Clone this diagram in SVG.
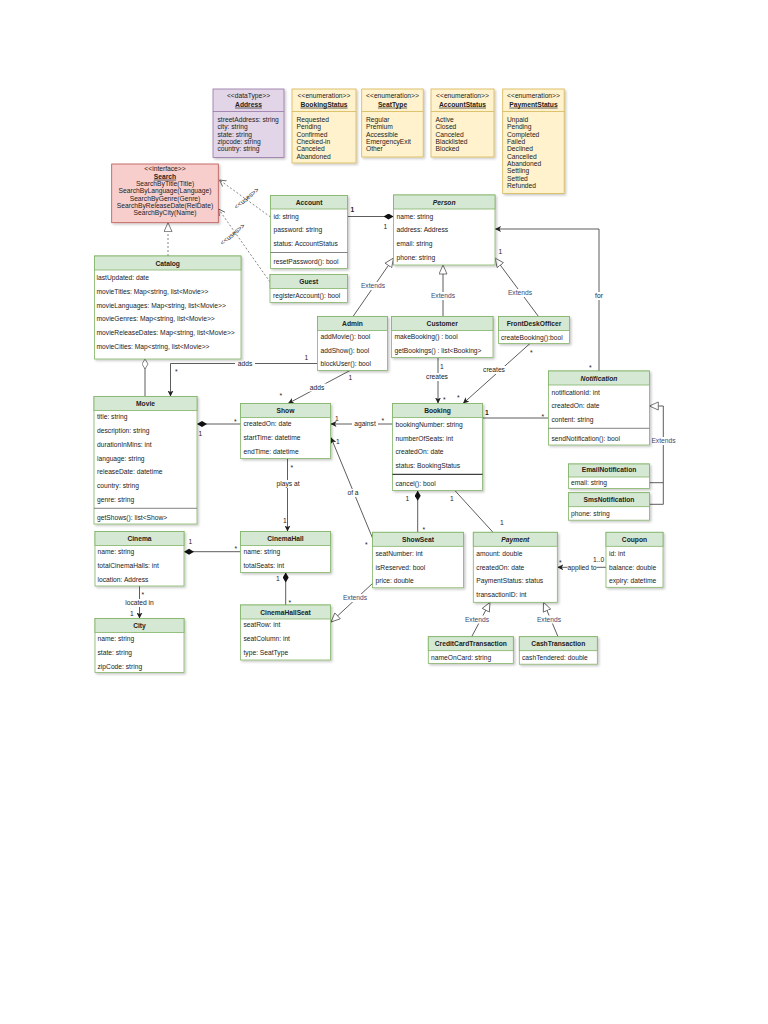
<svg xmlns="http://www.w3.org/2000/svg" width="768" height="1024" viewBox="0 0 768 1024">
<style>
.t{font-family:"Liberation Sans",Arial,Helvetica,sans-serif;font-size:6.7px;fill:#222}
.b{font-weight:bold}
.i{font-style:italic}
.c{text-anchor:middle}
.u{text-decoration:underline}
.bx{fill:#fff;stroke:#82b366;stroke-width:0.8;filter:url(#sh)}
.hd{fill:#d5e8d4;stroke:#82b366;stroke-width:0.8}
.sp{stroke:#666;stroke-width:0.8}
.en{fill:#fff2cc;stroke:#d6b656;stroke-width:0.8;filter:url(#sh)}
.dt{fill:#e1d5e7;stroke:#9673a6;stroke-width:0.8;filter:url(#sh)}
.ln{fill:none;stroke:#333;stroke-width:0.8}
.dl{fill:none;stroke:#666;stroke-width:0.8;stroke-dasharray:2,2}
.lb{fill:#fff}
.ex{fill:#3a4a72}
</style>
<defs>
<filter id="sh" x="-10%" y="-10%" width="130%" height="130%">
<feDropShadow dx="1.5" dy="1.5" stdDeviation="1" flood-color="#000" flood-opacity="0.22"/>
</filter>
<marker id="ar" markerWidth="7" markerHeight="6" refX="6" refY="3" orient="auto" markerUnits="userSpaceOnUse">
<path d="M0,0 L6,3 L0,6 L1.5,3 z" fill="#222"/>
</marker>
<marker id="op" markerWidth="8" markerHeight="8" refX="6.5" refY="3.5" orient="auto" markerUnits="userSpaceOnUse">
<path d="M0,0 L6.5,3.5 L0,7" fill="none" stroke="#555" stroke-width="0.8"/>
</marker>
<marker id="tr" markerWidth="11" markerHeight="11" refX="9.5" refY="4.5" orient="auto" markerUnits="userSpaceOnUse">
<path d="M0.5,0.5 L9.5,4.5 L0.5,8.5 z" fill="#fff" stroke="#555" stroke-width="0.8"/>
</marker>
<marker id="df" markerWidth="11" markerHeight="7" refX="10" refY="3" orient="auto" markerUnits="userSpaceOnUse">
<path d="M0,3 L5,0 L10,3 L5,6 z" fill="#111"/>
</marker>
<marker id="dh" markerWidth="11" markerHeight="7" refX="10.5" refY="3.5" orient="auto" markerUnits="userSpaceOnUse">
<path d="M0.5,3.5 L5.5,0.5 L10.5,3.5 L5.5,6.5 z" fill="#fff" stroke="#555" stroke-width="0.7"/>
</marker>
</defs>
<rect width="768" height="1024" fill="#fff"/>

<!-- connectors -->
<g id="connectors">
<!-- Account - Person composition -->
<path class="ln" d="M347.5,216.5 H393.5" marker-end="url(#df)"/>
<text class="t b" x="350.5" y="212">1</text>
<text class="t" x="383.5" y="229">1</text>
<!-- dependencies to Search -->
<path class="dl" d="M270.5,217 L219.5,180" marker-end="url(#op)"/>
<text class="t c" font-size="6.2" transform="translate(248,200) rotate(-40)">&lt;&lt;uses&gt;&gt;</text>
<path class="dl" d="M270,282 L218.5,209" marker-end="url(#op)"/>
<text class="t c" font-size="6.2" transform="translate(234,236) rotate(-40)">&lt;&lt;uses&gt;&gt;</text>
<!-- Catalog realizes Search -->
<path class="dl" d="M168,256 V222.7" marker-end="url(#tr)"/>
<!-- Catalog - Movie aggregation -->
<path class="ln" d="M145,396.5 V359" marker-end="url(#dh)"/>
<!-- Admin adds Movie -->
<path class="ln" d="M317.5,363.5 H170.5 V396.5" marker-end="url(#ar)"/>
<rect class="lb" x="235" y="359.5" width="20" height="8"/>
<text class="t c" x="245" y="365.8">adds</text>
<text class="t" x="304.5" y="360">1</text>
<text class="t" x="175" y="374">*</text>
<!-- Admin adds Show -->
<path class="ln" d="M350,370.5 L288,403.5" marker-end="url(#ar)"/>
<rect class="lb" x="308" y="383.5" width="18" height="8"/>
<text class="t c" x="317" y="389.5">adds</text>
<text class="t" x="348.5" y="380">1</text>
<text class="t" x="279.5" y="398">*</text>
<!-- Extends to Person -->
<path class="ln" d="M353,316.5 L393.5,258" marker-end="url(#tr)"/>
<rect class="lb" x="361" y="282" width="24" height="8"/>
<text class="t c ex" x="373" y="288.3">Extends</text>
<path class="ln" d="M443,316.5 V265" marker-end="url(#tr)"/>
<rect class="lb" x="431" y="292" width="24" height="8"/>
<text class="t c ex" x="443" y="298.3">Extends</text>
<path class="ln" d="M538.5,316.5 L495,258" marker-end="url(#tr)"/>
<rect class="lb" x="508" y="289" width="24" height="8"/>
<text class="t c ex" x="520" y="295.3">Extends</text>
<!-- Notification for Person -->
<path class="ln" d="M599,371 V229 H495" marker-end="url(#ar)"/>
<rect class="lb" x="592" y="292" width="14" height="8"/>
<text class="t c" x="599" y="298.3">for</text>
<text class="t" x="589" y="369.5">*</text>
<text class="t" x="498.5" y="254">1</text>
<!-- Customer creates Booking -->
<path class="ln" d="M438,357.5 V403.5" marker-end="url(#ar)"/>
<text class="t" x="440" y="369">1</text>
<rect class="lb" x="426" y="373" width="22" height="8"/>
<text class="t c" x="437" y="379.3">creates</text>
<text class="t" x="443" y="401.5">*</text>
<!-- FrontDeskOfficer creates Booking -->
<path class="ln" d="M530,343.5 L463,403.5" marker-end="url(#ar)"/>
<text class="t" x="530" y="355">*</text>
<rect class="lb" x="483" y="366" width="22" height="8"/>
<text class="t c" x="494" y="372.3">creates</text>
<text class="t" x="457" y="400">*</text>
<!-- Booking against Show -->
<path class="ln" d="M392.5,424 H330.5" marker-end="url(#ar)"/>
<rect class="lb" x="352" y="420" width="26" height="8"/>
<text class="t c" x="365" y="426.3">against</text>
<text class="t" x="381.5" y="422.5">*</text>
<text class="t" x="335" y="421">1</text>
<!-- ShowSeat of a Show -->
<path class="ln" d="M372.5,538 L331,437.5" marker-end="url(#ar)"/>
<text class="t" x="336" y="443.5">1</text>
<rect class="lb" x="346" y="489" width="14" height="8"/>
<text class="t c" x="353" y="495.3">of a</text>
<text class="t" x="365" y="547">*</text>
<!-- Show - Movie composition -->
<path class="ln" d="M240.5,424 H197" marker-end="url(#df)"/>
<text class="t" x="234" y="423.5">*</text>
<text class="t" x="198.5" y="436">1</text>
<!-- Show plays at CinemaHall -->
<path class="ln" d="M287.5,458.5 V531.5" marker-end="url(#ar)"/>
<text class="t" x="290.5" y="469.5">*</text>
<rect class="lb" x="275.5" y="480" width="25" height="8"/>
<text class="t c" x="288" y="486.3">plays at</text>
<text class="t" x="283" y="523">1</text>
<!-- CinemaHall - Cinema composition -->
<path class="ln" d="M240.5,551.7 H184" marker-end="url(#df)"/>
<text class="t" x="188.5" y="544">1</text>
<text class="t" x="234.5" y="550.5">*</text>
<!-- Cinema located in City -->
<path class="ln" d="M139.5,586 V618.5" marker-end="url(#ar)"/>
<text class="t" x="141.5" y="597">*</text>
<rect class="lb" x="125" y="599" width="29" height="8"/>
<text class="t c" x="139.5" y="605.3">located in</text>
<text class="t" x="130" y="616">1</text>
<!-- CinemaHallSeat - CinemaHall composition -->
<path class="ln" d="M285.7,605 V572.5" marker-end="url(#df)"/>
<text class="t" x="276" y="581">1</text>
<text class="t" x="288.5" y="604.5">*</text>
<!-- ShowSeat extends CinemaHallSeat -->
<path class="ln" d="M373,583 L331,622" marker-end="url(#tr)"/>
<rect class="lb" x="343" y="594" width="24" height="8"/>
<text class="t c ex" x="355" y="600.3">Extends</text>
<!-- Booking - ShowSeat composition -->
<path class="ln" d="M417.7,532.3 V490.7" marker-end="url(#df)"/>
<text class="t" x="405.5" y="501">1</text>
<text class="t" x="422.5" y="531.5">*</text>
<!-- Booking - Payment -->
<path class="ln" d="M455,490.7 L493,532.3"/>
<text class="t" x="450" y="501">1</text>
<text class="t" x="500" y="524.5">1</text>
<!-- Booking - Notification -->
<path class="ln" d="M482.5,418 H548.5"/>
<text class="t b" x="485" y="414.5">1</text>
<text class="t" x="541.5" y="419">*</text>
<!-- Notification extends -->
<path class="ln" d="M649.3,482.7 H663.3 V406 H649.3" marker-end="url(#tr)"/>
<path class="ln" d="M649.3,504.3 H663.3 V482.7"/>
<rect class="lb" x="651" y="437" width="25" height="8"/>
<text class="t c ex" x="663.5" y="443.3">Extends</text>
<!-- Coupon applied to Payment -->
<path class="ln" d="M606,567.3 H557.3" marker-end="url(#ar)"/>
<text class="t" x="559" y="564.5">*</text>
<text class="t" x="593" y="562">1..0</text>
<rect class="lb" x="567.5" y="564" width="29" height="8"/>
<text class="t c" x="582" y="570.3">applied to</text>
<!-- Payment extends -->
<path class="ln" d="M471.7,636.7 L490,602.3" marker-end="url(#tr)"/>
<rect class="lb" x="465" y="615.5" width="24" height="8"/>
<text class="t c ex" x="477" y="621.8">Extends</text>
<path class="ln" d="M558,636.7 L543.5,602.3" marker-end="url(#tr)"/>
<rect class="lb" x="537" y="615.5" width="24" height="8"/>
<text class="t c ex" x="549" y="621.8">Extends</text>
</g>

<!-- enums / data types -->
<g id="address">
<rect class="dt" x="213" y="89" width="71" height="68.5"/>
<line x1="213" y1="111.5" x2="284" y2="111.5" stroke="#9673a6" stroke-width="0.8"/>
<text class="t c" x="248.5" y="98">&lt;&lt;dataType&gt;&gt;</text>
<text class="t c b u" x="248.5" y="106.7">Address</text>
<text class="t" x="217.5" y="122">streetAddress: string</text>
<text class="t" x="217.5" y="129.3">city: string</text>
<text class="t" x="217.5" y="136.6">state: string</text>
<text class="t" x="217.5" y="143.9">zipcode: string</text>
<text class="t" x="217.5" y="151.2">country: string</text>
</g>
<g id="bookingstatus">
<rect class="en" x="292" y="89" width="64" height="74"/>
<line x1="292" y1="111.5" x2="356" y2="111.5" stroke="#d6b656" stroke-width="0.8"/>
<text class="t c" x="324" y="98">&lt;&lt;enumeration&gt;&gt;</text>
<text class="t c b u" x="324" y="106.7">BookingStatus</text>
<text class="t" x="296.5" y="122">Requested</text>
<text class="t" x="296.5" y="129.3">Pending</text>
<text class="t" x="296.5" y="136.6">Confirmed</text>
<text class="t" x="296.5" y="143.9">Checked-in</text>
<text class="t" x="296.5" y="151.2">Canceled</text>
<text class="t" x="296.5" y="158.5">Abandoned</text>
</g>
<g id="seattype">
<rect class="en" x="361.7" y="89" width="61.5" height="68"/>
<line x1="361.7" y1="111.5" x2="423.2" y2="111.5" stroke="#d6b656" stroke-width="0.8"/>
<text class="t c" x="392.5" y="98">&lt;&lt;enumeration&gt;&gt;</text>
<text class="t c b u" x="392.5" y="106.7">SeatType</text>
<text class="t" x="366" y="122">Regular</text>
<text class="t" x="366" y="129.3">Premium</text>
<text class="t" x="366" y="136.6">Accessible</text>
<text class="t" x="366" y="143.9">EmergencyExit</text>
<text class="t" x="366" y="151.2">Other</text>
</g>
<g id="accountstatus">
<rect class="en" x="431" y="89" width="63" height="68"/>
<line x1="431" y1="111.5" x2="494" y2="111.5" stroke="#d6b656" stroke-width="0.8"/>
<text class="t c" x="462.5" y="98">&lt;&lt;enumeration&gt;&gt;</text>
<text class="t c b u" x="462.5" y="106.7">AccountStatus</text>
<text class="t" x="435.5" y="122">Active</text>
<text class="t" x="435.5" y="129.3">Closed</text>
<text class="t" x="435.5" y="136.6">Canceled</text>
<text class="t" x="435.5" y="143.9">Blacklisted</text>
<text class="t" x="435.5" y="151.2">Blocked</text>
</g>
<g id="paymentstatus">
<rect class="en" x="502.7" y="89" width="61.5" height="104.5"/>
<line x1="502.7" y1="111.5" x2="564.2" y2="111.5" stroke="#d6b656" stroke-width="0.8"/>
<text class="t c" x="533.5" y="98">&lt;&lt;enumeration&gt;&gt;</text>
<text class="t c b u" x="533.5" y="106.7">PaymentStatus</text>
<text class="t" x="507" y="122">Unpaid</text>
<text class="t" x="507" y="129.35">Pending</text>
<text class="t" x="507" y="136.7">Completed</text>
<text class="t" x="507" y="144.05">Failed</text>
<text class="t" x="507" y="151.4">Declined</text>
<text class="t" x="507" y="158.75">Cancelled</text>
<text class="t" x="507" y="166.1">Abandoned</text>
<text class="t" x="507" y="173.45">Settling</text>
<text class="t" x="507" y="180.8">Settled</text>
<text class="t" x="507" y="188.15">Refunded</text>
</g>

<!-- Search interface -->
<g id="search">
<rect x="111.7" y="164" width="106.6" height="58.7" fill="#f8cecc" stroke="#b85450" stroke-width="0.8" filter="url(#sh)"/>
<text class="t c" x="165" y="171.4">&lt;&lt;interface&gt;&gt;</text>
<text class="t c b u" x="165" y="178.7">Search</text>
<text class="t c" x="165" y="186">SearchByTitle(Title)</text>
<text class="t c" x="165" y="193.3">SearchByLanguage(Language)</text>
<text class="t c" x="165" y="200.6">SearchByGenre(Genre)</text>
<text class="t c" x="165" y="207.9">SearchByReleaseDate(RelDate)</text>
<text class="t c" x="165" y="215.2">SearchByCity(Name)</text>
</g>

<!-- classes -->
<g id="account">
<rect class="bx" x="270.5" y="195.5" width="77" height="73"/>
<rect class="hd" x="270.5" y="195.5" width="77" height="13.5"/>
<text class="t b c" x="309" y="205">Account</text>
<text class="t" x="273.5" y="218.9">id: string</text>
<text class="t" x="273.5" y="232.4">password: string</text>
<text class="t" x="273.5" y="246.1">status: AccountStatus</text>
<line class="sp" x1="270.5" y1="252.5" x2="347.5" y2="252.5"/>
<text class="t" x="273.5" y="263.9">resetPassword(): bool</text>
</g>
<g id="guest">
<rect class="bx" x="270" y="274.5" width="77.5" height="28"/>
<rect class="hd" x="270" y="274.5" width="77.5" height="14"/>
<text class="t b c" x="308.7" y="284">Guest</text>
<text class="t" x="273" y="298.4">registerAccount(): bool</text>
</g>
<g id="person">
<rect class="bx" x="393.5" y="195" width="101.5" height="70"/>
<rect class="hd" x="393.5" y="195" width="101.5" height="14"/>
<text class="t b i c" x="444.2" y="204.5">Person</text>
<text class="t" x="396.5" y="219.1">name: string</text>
<text class="t" x="396.5" y="232.4">address: Address</text>
<text class="t" x="396.5" y="246.1">email: string</text>
<text class="t" x="396.5" y="259.7">phone: string</text>
</g>
<g id="catalog">
<rect class="bx" x="94.5" y="256" width="146.5" height="103"/>
<rect class="hd" x="94.5" y="256" width="146.5" height="14"/>
<text class="t b c" x="167.7" y="265.5">Catalog</text>
<text class="t" x="96.5" y="279.7">lastUpdated: date</text>
<text class="t" x="96.5" y="293.7">movieTitles: Map&lt;string, list&lt;Movie&gt;&gt;</text>
<text class="t" x="96.5" y="307.7">movieLanguages: Map&lt;string, list&lt;Movie&gt;&gt;</text>
<text class="t" x="96.5" y="321.4">movieGenres: Map&lt;string, list&lt;Movie&gt;&gt;</text>
<text class="t" x="96.5" y="335.4">movieReleaseDates: Map&lt;string, list&lt;Movie&gt;&gt;</text>
<text class="t" x="96.5" y="348.9">movieCities: Map&lt;string, list&lt;Movie&gt;&gt;</text>
</g>
<g id="admin">
<rect class="bx" x="317.5" y="316.5" width="70" height="54"/>
<rect class="hd" x="317.5" y="316.5" width="70" height="14"/>
<text class="t b c" x="352.5" y="326">Admin</text>
<text class="t" x="320.5" y="339.1">addMovie(): bool</text>
<text class="t" x="320.5" y="353.1">addShow(): bool</text>
<text class="t" x="320.5" y="366.4">blockUser(): bool</text>
</g>
<g id="customer">
<rect class="bx" x="391.5" y="316.5" width="101.5" height="41"/>
<rect class="hd" x="391.5" y="316.5" width="101.5" height="14"/>
<text class="t b c" x="442.2" y="326">Customer</text>
<text class="t" x="394.5" y="339.1">makeBooking() : bool</text>
<text class="t" x="394.5" y="353.1">getBookings() : list&lt;Booking&gt;</text>
</g>
<g id="frontdeskofficer">
<rect class="bx" x="498.5" y="316.5" width="71" height="27"/>
<rect class="hd" x="498.5" y="316.5" width="71" height="14"/>
<text class="t b c" x="534" y="326">FrontDeskOfficer</text>
<text class="t" x="501" y="339.7">createBooking():bool</text>
</g>
<g id="movie">
<rect class="bx" x="94" y="396.5" width="103" height="127.5"/>
<rect class="hd" x="94" y="396.5" width="103" height="14"/>
<text class="t b c" x="145.5" y="406">Movie</text>
<text class="t" x="97" y="419.1">title: string</text>
<text class="t" x="97" y="433.1">description: string</text>
<text class="t" x="97" y="446.7">durationInMins: int</text>
<text class="t" x="97" y="460.7">language: string</text>
<text class="t" x="97" y="474.1">releaseDate: datetime</text>
<text class="t" x="97" y="488.1">country: string</text>
<text class="t" x="97" y="501.7">genre: string</text>
<line class="sp" x1="94" y1="508.3" x2="197" y2="508.3"/>
<text class="t" x="97" y="519.7">getShows(): list&lt;Show&gt;</text>
</g>
<g id="show">
<rect class="bx" x="240.5" y="403.5" width="90" height="55"/>
<rect class="hd" x="240.5" y="403.5" width="90" height="14"/>
<text class="t b c" x="285.5" y="413">Show</text>
<text class="t" x="243.5" y="426.4">createdOn: date</text>
<text class="t" x="243.5" y="440.1">startTime: datetime</text>
<text class="t" x="243.5" y="454.1">endTime: datetime</text>
</g>
<g id="booking">
<rect class="bx" x="392.5" y="403.5" width="90" height="87"/>
<rect class="hd" x="392.5" y="403.5" width="90" height="14"/>
<text class="t b c" x="437.5" y="413">Booking</text>
<text class="t" x="395.5" y="426.7">bookingNumber: string</text>
<text class="t" x="395.5" y="440.7">numberOfSeats: int</text>
<text class="t" x="395.5" y="454.1">createdOn: date</text>
<text class="t" x="395.5" y="468.1">status: BookingStatus</text>
<line x1="392.5" y1="474.3" x2="482.5" y2="474.3" stroke="#111" stroke-width="1"/>
<text class="t" x="395.5" y="486.4">cancel(): bool</text>
</g>
<g id="notification">
<rect class="bx" x="548.5" y="371" width="101" height="74"/>
<rect class="hd" x="548.5" y="371" width="101" height="14"/>
<text class="t b i c" x="599" y="380.5">Notification</text>
<text class="t" x="551.5" y="395.1">notificationId: int</text>
<text class="t" x="551.5" y="408.4">createdOn: date</text>
<text class="t" x="551.5" y="422.4">content: string</text>
<line class="sp" x1="548.5" y1="428.3" x2="649.5" y2="428.3"/>
<text class="t" x="551.5" y="440.7">sendNotification(): bool</text>
</g>
<g id="emailnotification">
<rect class="bx" x="568.5" y="464" width="81" height="24.5"/>
<rect class="hd" x="568.5" y="464" width="81" height="13"/>
<text class="t b c" x="609" y="472">EmailNotification</text>
<text class="t" x="571" y="485.1">email: string</text>
</g>
<g id="smsnotification">
<rect class="bx" x="568.5" y="492.7" width="81" height="27.5"/>
<rect class="hd" x="568.5" y="492.7" width="81" height="14"/>
<text class="t b c" x="609" y="502.3">SmsNotification</text>
<text class="t" x="571" y="516.4">phone: string</text>
</g>
<g id="cinema">
<rect class="bx" x="95" y="531.5" width="89" height="54.5"/>
<rect class="hd" x="95" y="531.5" width="89" height="14"/>
<text class="t b c" x="139.5" y="541">Cinema</text>
<text class="t" x="97.5" y="554.1">name: string</text>
<text class="t" x="97.5" y="568.1">totalCinemaHalls: int</text>
<text class="t" x="97.5" y="581.7">location: Address</text>
</g>
<g id="city">
<rect class="bx" x="95" y="618.5" width="89" height="54"/>
<rect class="hd" x="95" y="618.5" width="89" height="14"/>
<text class="t b c" x="139.5" y="628">City</text>
<text class="t" x="97.5" y="640.7">name: string</text>
<text class="t" x="97.5" y="654.7">state: string</text>
<text class="t" x="97.5" y="668.7">zipCode: string</text>
</g>
<g id="cinemahall">
<rect class="bx" x="240.5" y="531.5" width="90" height="41"/>
<rect class="hd" x="240.5" y="531.5" width="90" height="14"/>
<text class="t b c" x="285.5" y="541">CinemaHall</text>
<text class="t" x="243.5" y="554.1">name: string</text>
<text class="t" x="243.5" y="568.1">totalSeats: int</text>
</g>
<g id="cinemahallseat">
<rect class="bx" x="240.5" y="605" width="90" height="55"/>
<rect class="hd" x="240.5" y="605" width="90" height="14"/>
<text class="t b c" x="285.5" y="614.5">CinemaHallSeat</text>
<text class="t" x="243.5" y="627.4">seatRow: int</text>
<text class="t" x="243.5" y="641.4">seatColumn: int</text>
<text class="t" x="243.5" y="655.1">type: SeatType</text>
</g>
<g id="showseat">
<rect class="bx" x="372.5" y="532.3" width="91" height="55.5"/>
<rect class="hd" x="372.5" y="532.3" width="91" height="14"/>
<text class="t b c" x="418" y="541.8">ShowSeat</text>
<text class="t" x="375.5" y="556.1">seatNumber: int</text>
<text class="t" x="375.5" y="569.7">isReserved: bool</text>
<text class="t" x="375.5" y="583.4">price: double</text>
</g>
<g id="payment">
<rect class="bx" x="473.3" y="532.3" width="84" height="70"/>
<rect class="hd" x="473.3" y="532.3" width="84" height="14"/>
<text class="t b i c" x="515.3" y="541.8">Payment</text>
<text class="t" x="476.3" y="556.1">amount: double</text>
<text class="t" x="476.3" y="569.7">createdOn: date</text>
<text class="t" x="476.3" y="583.4">PaymentStatus: status</text>
<text class="t" x="476.3" y="597.4">transactionID: int</text>
</g>
<g id="coupon">
<rect class="bx" x="606" y="532.3" width="57" height="55"/>
<rect class="hd" x="606" y="532.3" width="57" height="14"/>
<text class="t b c" x="634.5" y="541.8">Coupon</text>
<text class="t" x="609" y="556.1">id: int</text>
<text class="t" x="609" y="569.7">balance: double</text>
<text class="t" x="609" y="583.4">expiry: datetime</text>
</g>
<g id="creditcardtransaction">
<rect class="bx" x="428.3" y="636.7" width="85" height="26.7"/>
<rect class="hd" x="428.3" y="636.7" width="85" height="14"/>
<text class="t b c" x="470.8" y="646.3">CreditCardTransaction</text>
<text class="t" x="431" y="659.7">nameOnCard: string</text>
</g>
<g id="cashtransaction">
<rect class="bx" x="519.3" y="636.7" width="78" height="27.5"/>
<rect class="hd" x="519.3" y="636.7" width="78" height="14"/>
<text class="t b c" x="558.3" y="646.3">CashTransaction</text>
<text class="t" x="522" y="659.7">cashTendered: double</text>
</g>
</svg>
